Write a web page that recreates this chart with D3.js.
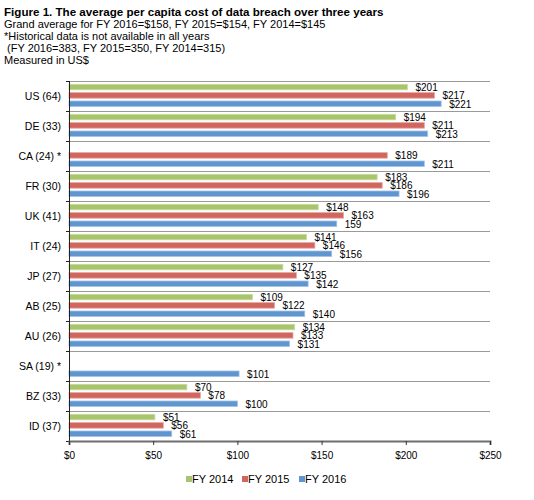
<!DOCTYPE html>
<html>
<head>
<meta charset="utf-8">
<script src="https://cdn.jsdelivr.net/npm/d3@7"></script>
<style>
    body { margin: 0; background: #fff; }
    text { font-family: "Liberation Sans", Arial, sans-serif; fill: #000; }
</style>
</head>
<body>
<svg id="chart" width="534" height="500"></svg>
<script>
// countries (sample size), top to bottom
const countries = [
    "US (64)", "DE (33)", "CA (24) *", "FR (30)", "UK (41)", "IT (24)",
    "JP (27)", "AB (25)", "AU (26)", "SA (19) *", "BZ (33)", "ID (37)",
];
const series = ["FY 2014", "FY 2015", "FY 2016"];
// null = no historical data
const fy2014 = [201, 194, null, 183, 148, 141, 127, 109, 134, null, 70, 51];
const fy2015 = [217, 211, 189, 186, 163, 146, 135, 122, 133, null, 78, 56];
const fy2016 = [221, 213, 211, 196, 159, 156, 142, 140, 131, 101, 100, 61];
const xTicks = [0, 50, 100, 150, 200, 250];
// the UK 2016 label shows without the dollar sign in the original
const noDollar = ["UK (41)|FY 2016"];

const titleLines = [
    "Grand average for FY 2016=$158, FY 2015=$154, FY 2014=$145",
    "*Historical data is not available in all years",
    " (FY 2016=383, FY 2015=350, FY 2014=315)",
    "Measured in US$",
];

const colours = { "FY 2014": "#a8c56c", "FY 2015": "#d0665e", "FY 2016": "#5f96cf" };
const strokes = { "FY 2014": "#c9dca2", "FY 2015": "#e6a39d", "FY 2016": "#a3c3e6" };

const values = [fy2014, fy2015, fy2016];
const rows = countries.map((c, i) => ({
    country: c,
    bars: series.map((s, j) => ({ series: s, value: values[j][i], country: c })),
}));

const svg = d3.select("#chart");
const margin = { left: 69, right: 44, top: 81, bottom: 59 };
const width = 534 - margin.left - margin.right;
const height = 500 - margin.top - margin.bottom;

// title block
svg.append("text")
    .attr("x", 4).attr("y", 16)
    .attr("font-size", 11.6).attr("font-weight", "bold")
    .text("Figure 1. The average per capita cost of data breach over three years");

svg.selectAll(".sub")
    .data(titleLines)
    .join("text")
    .attr("class", "sub")
    .attr("x", 4)
    .attr("y", (d, i) => 28 + i * 12)
    .attr("font-size", 11)
    .style("white-space", "pre")
    .text((d) => d);

const g = svg.append("g").attr("transform", `translate(${margin.left},${margin.top})`);

const x = d3.scaleLinear().domain([0, 250]).range([0, width]);
const y = d3.scaleBand().domain(countries).range([0, height]);
const yInner = d3.scaleBand().domain(series).range([3.3, 25.5]).paddingInner(0.34);

// gridlines at category boundaries
g.append("g")
    .selectAll("line")
    .data(countries)
    .join("line")
    .attr("x1", 0).attr("x2", width)
    .attr("y1", (d) => Math.round(y(d)) + 0.5)
    .attr("y2", (d) => Math.round(y(d)) + 0.5)
    .attr("stroke", "#9a9a9a");

// bars
const rowG = g.selectAll(".row")
    .data(rows)
    .join("g")
    .attr("class", "row")
    .attr("transform", (d) => `translate(0,${y(d.country)})`);

const bars = rowG.selectAll("g.bar")
    .data((d) => d.bars.filter((b) => b.value != null))
    .join("g")
    .attr("class", "bar");

bars.append("rect")
    .attr("x", 0)
    .attr("y", (d) => yInner(d.series))
    .attr("width", (d) => x(d.value))
    .attr("height", yInner.bandwidth())
    .attr("fill", (d) => colours[d.series])
    .attr("stroke", (d) => strokes[d.series])
    .attr("stroke-width", 0.8);

bars.append("text")
    .attr("x", (d) => x(d.value) + 8)
    .attr("y", (d) => yInner(d.series) + yInner.bandwidth() / 2 + 0.5)
    .attr("dy", "0.35em")
    .attr("font-size", 10)
    .text((d) => (noDollar.includes(d.country + "|" + d.series) ? "" : "$") + d.value);

// left axis
const yAxis = g.append("g");
yAxis.append("line")
    .attr("x1", 0.5).attr("x2", 0.5)
    .attr("y1", 0).attr("y2", height)
    .attr("stroke", "#222");
yAxis.selectAll(".tick")
    .data(countries.concat(["_end"]))
    .join("line")
    .attr("class", "tick")
    .attr("x1", -3).attr("x2", 0)
    .attr("y1", (d, i) => Math.round(i * y.step()) + 0.5)
    .attr("y2", (d, i) => Math.round(i * y.step()) + 0.5)
    .attr("stroke", "#222");
yAxis.selectAll(".lab")
    .data(countries)
    .join("text")
    .attr("class", "lab")
    .attr("x", -8)
    .attr("y", (d) => y(d) + y.bandwidth() / 2)
    .attr("dy", "0.35em")
    .attr("text-anchor", "end")
    .attr("font-size", 10.5)
    .text((d) => d);

// bottom axis
const xAxis = g.append("g")
    .attr("transform", `translate(0,${height})`)
    .call(d3.axisBottom(x).tickValues(xTicks).tickSize(4).tickFormat((d) => "$" + d));
xAxis.select(".domain").attr("stroke", "#6e6e6e").attr("stroke-width", 2);
xAxis.selectAll(".tick line").attr("stroke", "#333");
xAxis.selectAll(".tick text")
    .attr("font-size", 10)
    .attr("font-family", "Liberation Sans, Arial, sans-serif")
    .attr("fill", "#000")
    .attr("dy", "1.05em");

// legend
const legend = svg.append("g").attr("transform", "translate(186,479)");
const legendX = d3.scaleOrdinal().domain(series).range([0, 56, 113]);
const item = legend.selectAll("g")
    .data(series)
    .join("g")
    .attr("transform", (d) => `translate(${legendX(d)},0)`);
item.append("rect")
    .attr("x", 0).attr("y", -3)
    .attr("width", 6).attr("height", 6)
    .attr("fill", (d) => colours[d]);
item.append("text")
    .attr("x", 6)
    .attr("dy", "0.35em")
    .attr("font-size", 11)
    .text((d) => d);
</script>
</body>
</html>
